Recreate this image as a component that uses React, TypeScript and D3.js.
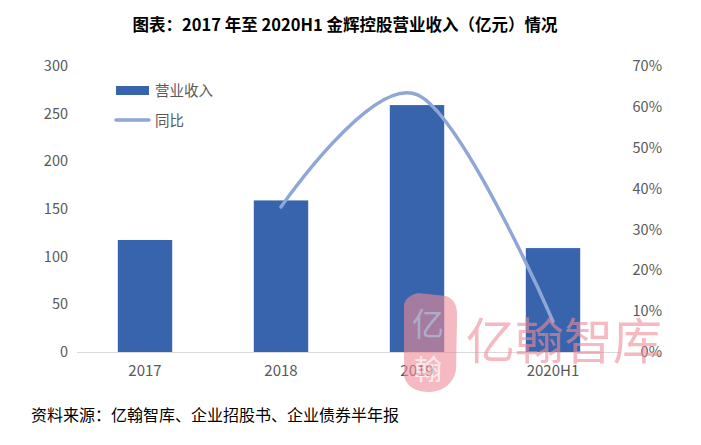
import { useEffect, useRef } from 'react';
import * as d3 from 'd3';

const categories = ['2017', '2018', '2019', '2020H1'];
const revenue = [117.5, 159, 259, 109];
// 同比, first year has no value
const yoyCats = ['2018', '2019', '2020H1'];
const yoy = [0.355, 0.63, 0.075];
const leftTicks = [0, 50, 100, 150, 200, 250, 300];
const rightTicks = [0, 0.1, 0.2, 0.3, 0.4, 0.5, 0.6, 0.7];

const FONT = '"Noto Sans CJK SC", "Microsoft YaHei", sans-serif';

export default function App() {
  const ref = useRef<SVGSVGElement | null>(null);

  useEffect(() => {
    const svg = d3.select(ref.current);
    svg.selectAll('*').remove();

    const left = 77;
    const right = 621;
    const top = 66;
    const bottom = 352;

    const x = d3.scaleBand().domain(categories).range([left, right]).paddingInner(0.6).paddingOuter(0.3);
    const y = d3.scaleLinear().domain([0, 300]).range([bottom, top]);
    const y2 = d3.scaleLinear().domain([0, 0.7]).range([bottom, top]);

    // title
    svg
      .append('text')
      .attr('x', 345)
      .attr('y', 31)
      .attr('text-anchor', 'middle')
      .style('font-family', FONT)
      .style('font-size', '16.5px')
      .style('font-weight', 'bold')
      .style('fill', '#000')
      .text('图表：2017 年至 2020H1 金辉控股营业收入（亿元）情况');

    // left axis labels
    svg
      .append('g')
      .selectAll('text')
      .data(leftTicks)
      .enter()
      .append('text')
      .attr('x', 68)
      .attr('y', (d) => y(d))
      .attr('dy', '0.35em')
      .attr('text-anchor', 'end')
      .style('font-family', FONT)
      .style('font-size', '14.5px')
      .style('fill', '#595959')
      .text((d) => d);

    // right axis labels
    svg
      .append('g')
      .selectAll('text')
      .data(rightTicks)
      .enter()
      .append('text')
      .attr('x', 662)
      .attr('y', (d) => y2(d))
      .attr('dy', '0.35em')
      .attr('text-anchor', 'end')
      .style('font-family', FONT)
      .style('font-size', '14.5px')
      .style('fill', '#595959')
      .text((d) => d3.format('.0%')(d));

    // bars
    svg
      .append('g')
      .selectAll('rect')
      .data(revenue)
      .enter()
      .append('rect')
      .attr('x', (_d, i) => x(categories[i])!)
      .attr('y', (d) => y(d))
      .attr('width', x.bandwidth())
      .attr('height', (d) => bottom - y(d))
      .attr('fill', '#3864ad');

    // baseline
    svg
      .append('line')
      .attr('x1', left)
      .attr('x2', right)
      .attr('y1', bottom + 0.5)
      .attr('y2', bottom + 0.5)
      .attr('stroke', '#d9d9d9');

    // yoy line
    const line = d3
      .line<number>()
      .x((_d, i) => x(yoyCats[i])! + x.bandwidth() / 2)
      .y((d) => y2(d))
      .curve(d3.curveCardinal.tension(0));
    svg
      .append('path')
      .datum(yoy)
      .attr('d', line)
      .attr('fill', 'none')
      .attr('stroke', '#8fa6d7')
      .attr('stroke-width', 3.5)
      .attr('stroke-linecap', 'round');

    // x labels
    svg
      .append('g')
      .selectAll('text')
      .data(categories)
      .enter()
      .append('text')
      .attr('x', (d) => x(d)! + x.bandwidth() / 2)
      .attr('y', 376)
      .attr('text-anchor', 'middle')
      .style('font-family', FONT)
      .style('font-size', '15px')
      .style('fill', '#595959')
      .text((d) => d);

    // watermark, sits on top of the plot
    const wm = svg.append('g').attr('opacity', 0.6).style('pointer-events', 'none');
    wm.append('path')
      .attr(
        'd',
        'M404,304 Q406,296 418,293 L446,296 Q458,300 457,318 L456,370 Q452,390 430,392 Q408,392 404,376 Z',
      )
      .attr('fill', '#ee8b98');
    wm.append('text')
      .attr('x', 412)
      .attr('y', 336)
      .style('font-family', FONT)
      .style('font-size', '32px')
      .style('fill', '#ffffff')
      .attr('opacity', 0.7)
      .text('亿');
    wm.append('text')
      .attr('x', 414)
      .attr('y', 380)
      .style('font-family', FONT)
      .style('font-size', '28px')
      .style('fill', '#ffffff')
      .attr('opacity', 0.7)
      .text('翰');
    wm.append('text')
      .attr('x', 466)
      .attr('y', 359)
      .style('font-family', FONT)
      .style('font-size', '49px')
      .style('fill', '#ee8b98')
      .text('亿翰智库');

    // legend
    const lg = svg.append('g');
    lg.append('rect').attr('x', 116).attr('y', 86).attr('width', 33).attr('height', 9).attr('fill', '#3864ad');
    lg.append('text')
      .attr('x', 155)
      .attr('y', 91)
      .attr('dy', '0.35em')
      .style('font-family', FONT)
      .style('font-size', '14.5px')
      .style('fill', '#595959')
      .text('营业收入');
    lg.append('line')
      .attr('x1', 116)
      .attr('x2', 149)
      .attr('y1', 120)
      .attr('y2', 120)
      .attr('stroke', '#8fa6d7')
      .attr('stroke-width', 3.5)
      .attr('stroke-linecap', 'round');
    lg.append('text')
      .attr('x', 155)
      .attr('y', 121)
      .attr('dy', '0.35em')
      .style('font-family', FONT)
      .style('font-size', '14.5px')
      .style('fill', '#595959')
      .text('同比');

    // source
    svg
      .append('text')
      .attr('x', 31)
      .attr('y', 421)
      .style('font-family', FONT)
      .style('font-size', '16px')
      .style('fill', '#000')
      .text('资料来源：亿翰智库、企业招股书、企业债券半年报');
  }, []);

  return (
    <svg
      ref={ref}
      width={701}
      height={445}
      style={{ position: 'absolute', left: 0, top: 0, background: '#fff' }}
    />
  );
}
